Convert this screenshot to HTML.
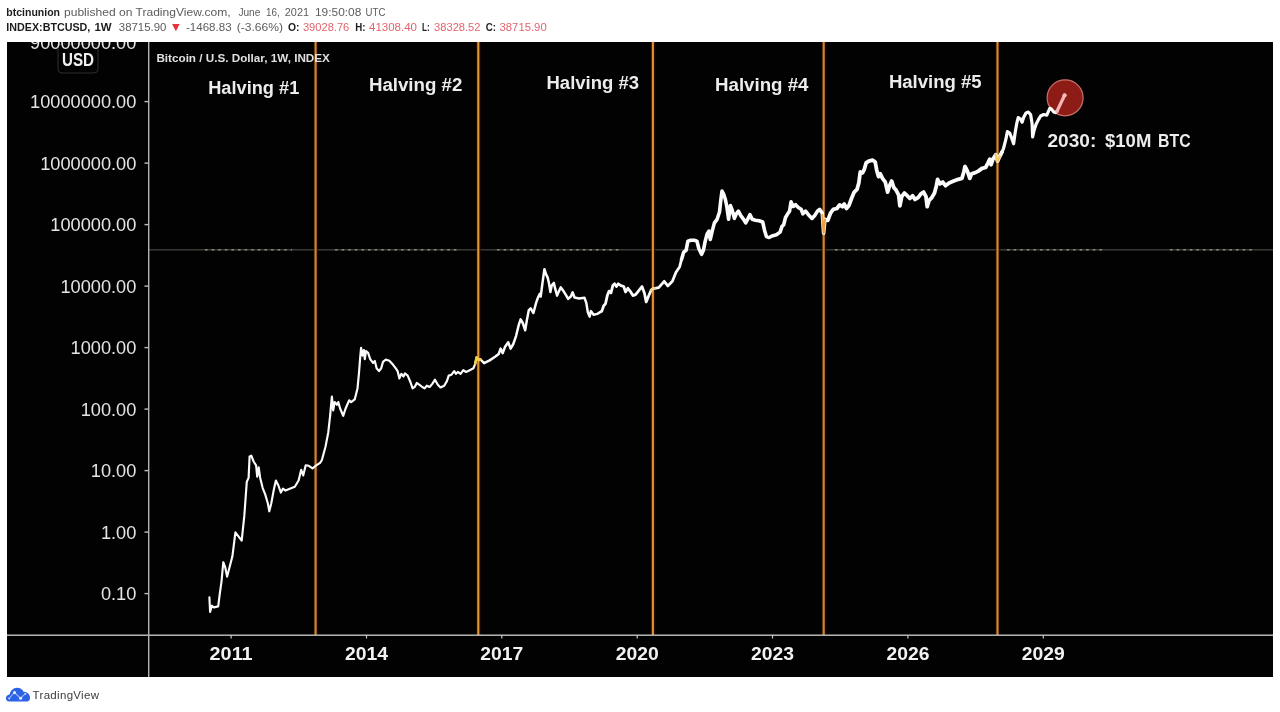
<!DOCTYPE html>
<html><head><meta charset="utf-8"><title>BTCUSD</title>
<style>
html,body{margin:0;padding:0;background:#fff;}
body{width:1280px;height:712px;overflow:hidden;position:relative;font-family:"Liberation Sans",sans-serif;}
svg{position:absolute;left:0;top:0;display:block;will-change:transform;}
text{font-family:"Liberation Sans",sans-serif;}
.hd{position:absolute;left:6px;white-space:nowrap;font-size:10.8px;color:#5a5a5a;line-height:12px;letter-spacing:0px}
.hd b{color:#1e1e1e;font-weight:bold}
.hd .r{color:#e4606a}
</style></head><body>
<svg width="1280" height="712" viewBox="0 0 1280 712">
<defs>
<linearGradient id="og" x1="0" x2="1" y1="0" y2="0">
<stop offset="0" stop-color="#5a4208"/><stop offset="0.3" stop-color="#b08436"/><stop offset="0.6" stop-color="#b07a34"/><stop offset="1" stop-color="#4a1c06"/>
</linearGradient>
<clipPath id="cp"><rect x="7" y="42" width="1266" height="635"/></clipPath>
</defs>
<rect x="7" y="42" width="1266" height="635" fill="#020202"/>
<text x="6.3" y="15.6" font-size="11.3" font-weight="bold" fill="#1c1c1c" textLength="53.7" lengthAdjust="spacingAndGlyphs">btcinunion</text>
<text x="64" y="15.6" font-size="11.3" fill="#5c5c5c" textLength="166.7" lengthAdjust="spacingAndGlyphs">published on TradingView.com,</text>
<text x="238.4" y="15.6" font-size="11.3" fill="#5c5c5c" textLength="22.0" lengthAdjust="spacingAndGlyphs">June</text>
<text x="266" y="15.6" font-size="11.3" fill="#5c5c5c" textLength="13.7" lengthAdjust="spacingAndGlyphs">16,</text>
<text x="284.8" y="15.6" font-size="11.3" fill="#5c5c5c" textLength="24.2" lengthAdjust="spacingAndGlyphs">2021</text>
<text x="315" y="15.6" font-size="11.3" fill="#5c5c5c" textLength="46.3" lengthAdjust="spacingAndGlyphs">19:50:08</text>
<text x="365.6" y="15.6" font-size="11.3" fill="#5c5c5c" textLength="19.8" lengthAdjust="spacingAndGlyphs">UTC</text>
<text x="6.3" y="31.3" font-size="11.3" font-weight="bold" fill="#1c1c1c" textLength="84.0" lengthAdjust="spacingAndGlyphs">INDEX:BTCUSD,</text>
<text x="94.5" y="31.3" font-size="11.3" font-weight="bold" fill="#1c1c1c" textLength="17.2" lengthAdjust="spacingAndGlyphs">1W</text>
<text x="118.8" y="31.3" font-size="11.3" fill="#5c5c5c" textLength="47.6" lengthAdjust="spacingAndGlyphs">38715.90</text>
<path d="M172.2 24 L179.6 24 L175.9 31.2 Z" fill="#e8303a"/>
<text x="186" y="31.3" font-size="11.3" fill="#5c5c5c" textLength="45.6" lengthAdjust="spacingAndGlyphs">-1468.83</text>
<text x="236.7" y="31.3" font-size="11.3" fill="#5c5c5c" textLength="46.4" lengthAdjust="spacingAndGlyphs">(-3.66%)</text>
<text x="288" y="31.3" font-size="11.3" font-weight="bold" fill="#1c1c1c" textLength="11.5" lengthAdjust="spacingAndGlyphs">O:</text>
<text x="302.9" y="31.3" font-size="11.3" fill="#e2636c" textLength="46.4" lengthAdjust="spacingAndGlyphs">39028.76</text>
<text x="355.3" y="31.3" font-size="11.3" font-weight="bold" fill="#1c1c1c" textLength="10.3" lengthAdjust="spacingAndGlyphs">H:</text>
<text x="369" y="31.3" font-size="11.3" fill="#e2636c" textLength="48.0" lengthAdjust="spacingAndGlyphs">41308.40</text>
<text x="422.1" y="31.3" font-size="11.3" font-weight="bold" fill="#1c1c1c" textLength="7.7" lengthAdjust="spacingAndGlyphs">L:</text>
<text x="434.1" y="31.3" font-size="11.3" fill="#e2636c" textLength="46.4" lengthAdjust="spacingAndGlyphs">38328.52</text>
<text x="485.7" y="31.3" font-size="11.3" font-weight="bold" fill="#1c1c1c" textLength="10.3" lengthAdjust="spacingAndGlyphs">C:</text>
<text x="499.5" y="31.3" font-size="11.3" fill="#e2636c" textLength="47.2" lengthAdjust="spacingAndGlyphs">38715.90</text>
<g clip-path="url(#cp)">
<rect x="58" y="44" width="40" height="29" rx="4" fill="#020202" stroke="#2e2e2e" stroke-width="1"/>
<text x="136.3" y="49.3" text-anchor="end" font-size="18.2" fill="#e6e6e6">90000000.00</text>
<text x="62" y="65.9" font-size="18.4" font-weight="bold" fill="#f0f0f0" textLength="32" lengthAdjust="spacingAndGlyphs">USD</text>
</g>
<text x="136.3" y="108.2" text-anchor="end" font-size="18.2" fill="#e4e4e4">10000000.00</text>
<rect x="144.5" y="100.9" width="4" height="1.4" fill="#bdbdbd"/>
<text x="136.3" y="169.7" text-anchor="end" font-size="18.2" fill="#e4e4e4">1000000.00</text>
<rect x="144.5" y="162.4" width="4" height="1.4" fill="#bdbdbd"/>
<text x="136.3" y="231.2" text-anchor="end" font-size="18.2" fill="#e4e4e4">100000.00</text>
<rect x="144.5" y="223.9" width="4" height="1.4" fill="#bdbdbd"/>
<text x="136.3" y="292.7" text-anchor="end" font-size="18.2" fill="#e4e4e4">10000.00</text>
<rect x="144.5" y="285.4" width="4" height="1.4" fill="#bdbdbd"/>
<text x="136.3" y="354.2" text-anchor="end" font-size="18.2" fill="#e4e4e4">1000.00</text>
<rect x="144.5" y="346.9" width="4" height="1.4" fill="#bdbdbd"/>
<text x="136.3" y="415.7" text-anchor="end" font-size="18.2" fill="#e4e4e4">100.00</text>
<rect x="144.5" y="408.4" width="4" height="1.4" fill="#bdbdbd"/>
<text x="136.3" y="477.2" text-anchor="end" font-size="18.2" fill="#e4e4e4">10.00</text>
<rect x="144.5" y="469.9" width="4" height="1.4" fill="#bdbdbd"/>
<text x="136.3" y="538.7" text-anchor="end" font-size="18.2" fill="#e4e4e4">1.00</text>
<rect x="144.5" y="531.4" width="4" height="1.4" fill="#bdbdbd"/>
<text x="136.3" y="600.2" text-anchor="end" font-size="18.2" fill="#e4e4e4">0.10</text>
<rect x="144.5" y="592.9" width="4" height="1.4" fill="#bdbdbd"/>
<rect x="149" y="249.3" width="1124" height="1.1" fill="#4e4e48"/>
<line x1="205" x2="292" y1="249.8" y2="249.8" stroke="#8e8878" stroke-width="1.4" stroke-dasharray="2.6 4"/>
<line x1="335" x2="457" y1="249.8" y2="249.8" stroke="#8e8878" stroke-width="1.4" stroke-dasharray="2.6 4"/>
<line x1="497" x2="620" y1="249.8" y2="249.8" stroke="#8e8878" stroke-width="1.4" stroke-dasharray="2.6 4"/>
<line x1="835" x2="937" y1="249.8" y2="249.8" stroke="#8e8878" stroke-width="1.4" stroke-dasharray="2.6 4"/>
<line x1="1007" x2="1105" y1="249.8" y2="249.8" stroke="#8e8878" stroke-width="1.4" stroke-dasharray="2.6 4"/>
<line x1="1170" x2="1252" y1="249.8" y2="249.8" stroke="#8e8878" stroke-width="1.4" stroke-dasharray="2.6 4"/>
<rect x="313.2" y="42" width="5.2" height="593" fill="#2c0a00" opacity="0.55"/>
<rect x="314.1" y="42" width="3.0" height="593" fill="#5a2c08" opacity="0.65"/>
<rect x="314.6" y="42" width="2.0" height="593" fill="#cc8a30"/>
<rect x="475.9" y="42" width="5.2" height="593" fill="#2c0a00" opacity="0.55"/>
<rect x="476.8" y="42" width="3.0" height="593" fill="#5a2c08" opacity="0.65"/>
<rect x="477.3" y="42" width="2.0" height="593" fill="#de9a34"/>
<rect x="650.5" y="42" width="5.2" height="593" fill="#2c0a00" opacity="0.55"/>
<rect x="651.4" y="42" width="3.0" height="593" fill="#5a2c08" opacity="0.65"/>
<rect x="651.9" y="42" width="2.0" height="593" fill="#e29430"/>
<rect x="821.3" y="42" width="5.2" height="593" fill="#2c0a00" opacity="0.55"/>
<rect x="822.2" y="42" width="3.0" height="593" fill="#5a2c08" opacity="0.65"/>
<rect x="822.7" y="42" width="2.0" height="593" fill="#cc8632"/>
<rect x="995.1" y="42" width="5.2" height="593" fill="#2c0a00" opacity="0.55"/>
<rect x="996.0" y="42" width="3.0" height="593" fill="#5a2c08" opacity="0.65"/>
<rect x="996.5" y="42" width="2.0" height="593" fill="#d48a30"/>
<rect x="7" y="634.5" width="1266" height="1.4" fill="#c4c4c0"/>
<rect x="148" y="42" width="1.4" height="635" fill="#b4b4b4"/>
<rect x="230.5" y="635" width="1.2" height="3.5" fill="#c8c8c8"/>
<text x="231.1" y="660" text-anchor="middle" font-size="18.2" font-weight="bold" fill="#f2f2f2" textLength="43" lengthAdjust="spacingAndGlyphs">2011</text>
<rect x="365.9" y="635" width="1.2" height="3.5" fill="#c8c8c8"/>
<text x="366.5" y="660" text-anchor="middle" font-size="18.2" font-weight="bold" fill="#f2f2f2" textLength="43" lengthAdjust="spacingAndGlyphs">2014</text>
<rect x="501.2" y="635" width="1.2" height="3.5" fill="#c8c8c8"/>
<text x="501.8" y="660" text-anchor="middle" font-size="18.2" font-weight="bold" fill="#f2f2f2" textLength="43" lengthAdjust="spacingAndGlyphs">2017</text>
<rect x="636.6" y="635" width="1.2" height="3.5" fill="#c8c8c8"/>
<text x="637.2" y="660" text-anchor="middle" font-size="18.2" font-weight="bold" fill="#f2f2f2" textLength="43" lengthAdjust="spacingAndGlyphs">2020</text>
<rect x="771.9" y="635" width="1.2" height="3.5" fill="#c8c8c8"/>
<text x="772.5" y="660" text-anchor="middle" font-size="18.2" font-weight="bold" fill="#f2f2f2" textLength="43" lengthAdjust="spacingAndGlyphs">2023</text>
<rect x="907.3" y="635" width="1.2" height="3.5" fill="#c8c8c8"/>
<text x="907.9" y="660" text-anchor="middle" font-size="18.2" font-weight="bold" fill="#f2f2f2" textLength="43" lengthAdjust="spacingAndGlyphs">2026</text>
<rect x="1042.7" y="635" width="1.2" height="3.5" fill="#c8c8c8"/>
<text x="1043.3" y="660" text-anchor="middle" font-size="18.2" font-weight="bold" fill="#f2f2f2" textLength="43" lengthAdjust="spacingAndGlyphs">2029</text>
<text x="156.4" y="61.9" font-size="11.6" font-weight="bold" fill="#e0e0e0" textLength="173.5" lengthAdjust="spacingAndGlyphs">Bitcoin / U.S. Dollar, 1W, INDEX</text>
<text x="208.2" y="94.3" font-size="18.3" font-weight="bold" fill="#ececec" textLength="91.1" lengthAdjust="spacingAndGlyphs">Halving #1</text>
<text x="368.9" y="90.6" font-size="18.3" font-weight="bold" fill="#ececec" textLength="93.5" lengthAdjust="spacingAndGlyphs">Halving #2</text>
<text x="546.5" y="88.6" font-size="18.3" font-weight="bold" fill="#ececec" textLength="92.5" lengthAdjust="spacingAndGlyphs">Halving #3</text>
<text x="715.0" y="90.6" font-size="18.3" font-weight="bold" fill="#ececec" textLength="93.5" lengthAdjust="spacingAndGlyphs">Halving #4</text>
<text x="888.9" y="88.2" font-size="18.3" font-weight="bold" fill="#ececec" textLength="92.8" lengthAdjust="spacingAndGlyphs">Halving #5</text>
<circle cx="1065.1" cy="97.8" r="18" fill="#8e1c16" stroke="#c8706a" stroke-width="1.2"/>
<polyline points="209.4,597.3 210.1,612 211.9,605.7 213.9,607.4 218.2,606.4 219.7,594.3 221.5,581.6 223.3,562.2 225.3,567.7 227.1,576.6 229.1,569 232.4,556.3 235.4,532.3 237.9,535.6 241.7,540.7 244.3,515.9 246.8,481.7 248.6,477.9 249.6,456.4 251.3,455.7 253.6,461.5 256.1,465.3 257.2,476.7 258.7,467.3 260.2,477.9 262.7,488.1 265.2,494.4 267.8,503.2 269.3,511.3 271.3,503.2 273.9,489.3 275.9,480.5 278.4,485.5 280.9,492.6 283,488.6 285.5,490.6 289.8,488.8 294.8,486.8 298.6,480.5 301.2,469.8 303.2,475.4 305.7,465.3 308.8,465.8 312.5,468.3 316.3,465.3 320.1,462.8 321.9,460 325.5,446.8 328.3,432.2 330.1,415.8" fill="none" stroke="#fbfbfb" stroke-width="2.15" stroke-linejoin="round" stroke-linecap="round"/>
<polyline points="330.1,415.8 331.9,396.6 333.2,410.3 334.6,402.1 337,404.8 338.3,402.1 340.1,408.5 343.2,415.8 345.6,408.5 349.2,400.3 351.1,402.1 354.7,399.4 357.5,388.4 358.9,373.8 360.2,357.4 361.1,347.9 362.6,355.6 363.9,350.1 364.8,359.2 366,351 368.1,352.8 370.2,359.2 373,362.9 374.8,361 376.6,368.3 379,371.1 381.2,368.3 383,361.9 385.8,359.6 389.4,360.7 393.1,364.8 395.8,368.3 397.6,371.1 399.4,378.4 401.3,373.8 403.5,376.5 404.9,373.4 407.7,375.6 410.4,382 412.6,388.4 415,386.6 416.8,382.9 419.5,384.8 422.3,387 424.6,388.4 426.8,385.7 429.6,387 432.3,383.9 435,379.7 437.8,384.8 440.5,387.5 444.2,385.7 446.9,381.1 448.7,375.6 451.5,374.7 454.2,371.1 456,373.8 457.9,372 460.6,373.8 463.3,370.2 466.1,372 469.7,370.2 473.4,368.3 475.2,363.8 476.5,357.4 478.9,360.1 480.5,359.5" fill="none" stroke="#fbfbfb" stroke-width="2.2" stroke-linejoin="round" stroke-linecap="round"/>
<polyline points="480.5,359.5 484.1,363.2 489.6,360.4 495.1,356.8 498.7,354 500.6,348.6 502.7,353.1 505.1,346.7 508.2,342.2 510.6,348.6 513.3,344 516.1,335.8 518.8,324.8 520.6,319.4 522.8,323 525.2,330.3 527,319.4 528.8,310.2 530.7,308.4 533.4,313 536.1,302.9 538,297.5 539.8,293.8 540.7,296.5 542.5,282.9 544.4,269.2 546.2,274.6 547.6,277.4 548.9,282.9 550.4,292 551.7,285.6 553.8,282.9 555.3,289.2 557.1,295.6 559,291.1 560.8,287.4 563.5,291.1 566.3,295.6 568.1,298.9 570.8,296.5 572.6,292.3 574.5,297.5 579,298.4 584.5,297.8 586.3,302.9 587.8,312.1 589.6,316.6 590.9,311.1 593.6,314.8 597.3,313.9 601.8,311.1" fill="none" stroke="#fbfbfb" stroke-width="2.5" stroke-linejoin="round" stroke-linecap="round"/>
<polyline points="601.8,311.1 603.7,305.7 605.5,303.8 607.3,295.6 609.1,291.1 611,292.9 612.8,285.6 614.6,283.8 616.4,286.5 618.3,283.8 621,285.6 623.7,286.5 625.6,292 627.9,288.3 630.1,291.1 632.9,295.6 635.6,294.7 638.4,291.1 642,286.5 644.4,292.9 646.2,302 648.4,296.5 651.1,290.2 653.2,288.6 658.7,287.7 664.2,281.3 667.8,285.9 672.4,281.3 676,272.2 679.7,266.7 681.5,259.4" fill="none" stroke="#fbfbfb" stroke-width="2.8" stroke-linejoin="round" stroke-linecap="round"/>
<polyline points="681.5,259.4 683.7,252.1 686.1,250.3 687.9,241.2 690.6,240.3 694.3,240.3 697,241.2 698.8,248.5 701.6,254.3 703.4,250.3 705.2,241.2 707.1,233.9 708.9,231.1 710.3,239.4 712.2,231.1 714.4,222.9 717.1,219.3 719.5,212 720.7,201 722,191 723.8,194.6 725.3,199.2 726.8,206.5 728.6,219.3 730.4,205.6 732.2,210.2 734.4,218.4 736.3,213.8 738.4,211.1 740.8,215.6 743.6,219.3 745.7,222.9 748.1,218.4 749.9,214.7 752.3,219.3 755.4,220.2 759.1,220.7 762.7,222 764.5,230.2 766.4,236.6 769.1,237.5 772.8,235.7 776.4,234.8 780.1,232.1 781.9,226.6 783.7,224.8 785.5,217.5 787.7,213.8 789.6,211.1 791,201.9 793.2,206.5 795.6,204.7 798.3,207.4 801.1,209.2 802.9,213.8 805.6,211.1 808.4,214.7 812,218.4 814.7,215.6 817.5,211.1 819.6,209.4 822.3,213.1 823.6,233.2 825,219.5" fill="none" stroke="#fbfbfb" stroke-width="3.6" stroke-linejoin="round" stroke-linecap="round"/>
<polyline points="825,219.5 827.8,220.4 830.5,213.1 833.3,209.4 836.9,208.5 839.6,204.9 842.4,206.7 844.2,204 846.4,208.5 848.8,205.8 851.5,198.5 854.2,192.1 857,189.4 858.8,183 860.3,172 862.5,172.9 864.3,169.3 866.1,162.9 868.8,161.1 872.5,160.2 875.2,162 876.7,170.2 878.5,176.6 880.3,173.8 882.5,178.4 885.3,182.1 887.6,192.1 889.5,185.7 891.7,181.1 893.8,187.5 896.2,190.3 898.6,194.8 899.9,205.8 901.7,196.7 904.4,193 907.2,195.7 909.9,198.5 912.6,195.7 915,199.4 918.1,197.6 920.9,193.9 923.6,192.1 926,196.7 927.2,206.7 929.1,200.3 931.8,197.6 934.5,193 936.4,185.7 937.6,179.3 940,183.9 942.8,182.1 945.5,185.7 949.1,183 953.7,181.1 958.3,179.3 961.9,178.4 963.8,172 965,166.5 967.4,171.1 969.8,178.4 971.6,173.8 974.7,172.9 978.3,171.1 982,168.4 985.6,167.5 988,162.9 989.8,159.2 991.1,164.7 992.9,159.2 995.7,154.7 997.5,161.1 999.7,156.5 1002.1,151.9" fill="none" stroke="#fbfbfb" stroke-width="3.8" stroke-linejoin="round" stroke-linecap="round"/>
<polyline points="1002.1,151.9 1003.5,148.5 1005.9,139.2 1007.4,131.5 1009.7,133 1012.1,139.2 1013.6,143.8 1015.1,133 1016.7,123.7 1018.2,117.6 1020.6,119.1 1022.1,122.2 1023.6,117.6 1026,112.9 1028.3,112.1 1030.6,114.5 1032.1,123.7 1032.6,136.9 1034.2,129.9 1036,124.5 1038.3,119.9 1040.6,116 1043.7,114.5 1046.8,115.2 1048.4,111.4 1049.9,108.3 1051.5,109.1 1053.8,112.1 1055.3,112.6 1056.9,111.4" fill="none" stroke="#fbfbfb" stroke-width="3.2" stroke-linejoin="round" stroke-linecap="round"/>
<polyline points="475.2,363.8 476.5,357.4 478.9,360.1 480.5,359.5" fill="none" stroke="#f5d040" stroke-width="2.4" stroke-linejoin="round" stroke-linecap="round"/>
<polyline points="822.3,215 823.6,233.2 825,219.5" fill="none" stroke="#f0a040" stroke-width="2" stroke-linejoin="round" stroke-linecap="round"/>
<polyline points="995.7,154.7 997.5,161.1 999.7,156.5" fill="none" stroke="#f5c860" stroke-width="2.4" stroke-linejoin="round" stroke-linecap="round"/>
<polyline points="651.1,290.2 653.2,288.6 655,288.2" fill="none" stroke="#f5d890" stroke-width="2.4" stroke-linejoin="round" stroke-linecap="round"/>
<line x1="1056.9" y1="111.4" x2="1064.6" y2="95.3" stroke="#f4b4b4" stroke-width="3.3" stroke-linecap="round"/>
<circle cx="1064.6" cy="95.3" r="2.1" fill="#f6bcbc"/>
<text x="1047.5" y="146.6" font-size="19.2" font-weight="bold" fill="#ececec" textLength="48.8" lengthAdjust="spacingAndGlyphs">2030:</text>
<text x="1105" y="146.6" font-size="19.2" font-weight="bold" fill="#ececec" textLength="46.3" lengthAdjust="spacingAndGlyphs">$10M</text>
<text x="1158.1" y="146.6" font-size="19.2" font-weight="bold" fill="#ececec" textLength="32.5" lengthAdjust="spacingAndGlyphs">BTC</text>
<g>
<path d="M9.5 701.6 C6.8 701.6 5.6 699.6 5.9 697.6 C6.2 695.6 8 694.6 9.6 694.4 C10.4 690.6 13.6 687.8 17 687.8 C20 687.8 22.4 689.4 23.6 691.8 C26.2 691.6 28.4 693.2 29.4 695.2 C31 698.2 29.6 701.6 26.4 701.6 Z" fill="#2b62e6"/>
<polyline points="9,698.5 14.5,692.5 20.5,698.2 25.5,693.6" fill="none" stroke="#9db8f5" stroke-width="1.1"/>
<circle cx="14.5" cy="692.6" r="1.5" fill="#eaf0ff"/><circle cx="20.6" cy="698.2" r="1.5" fill="#eaf0ff"/>
<circle cx="9.2" cy="698.4" r="1" fill="#c9d8fb"/><circle cx="25.4" cy="693.8" r="1" fill="#c9d8fb"/>
</g>
<text x="32.6" y="698.7" font-size="11.5" fill="#3c3c3c" textLength="66.4" lengthAdjust="spacing">TradingView</text>
</svg></body></html>
